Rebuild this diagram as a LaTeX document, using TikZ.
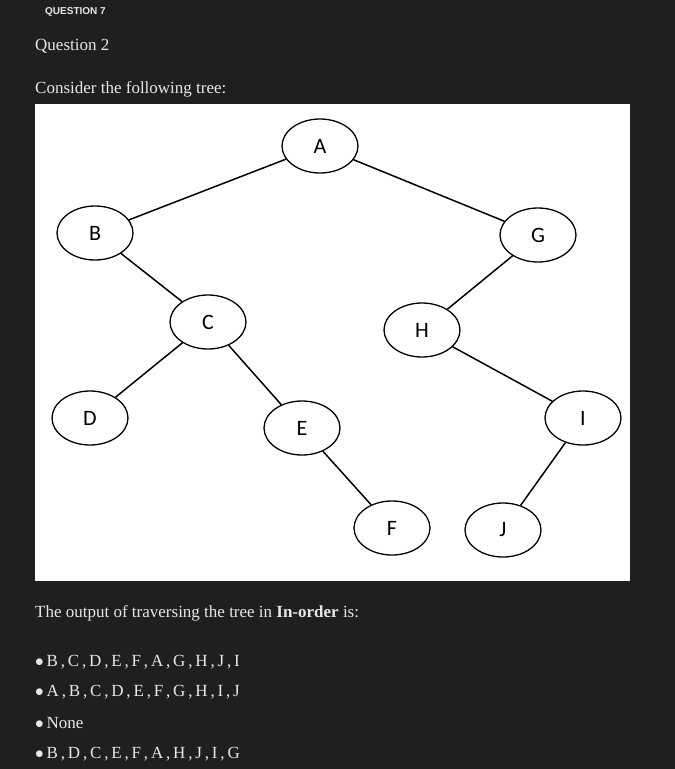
\documentclass[tikz,border=0pt]{standalone}
\usepackage{fontspec}
\setmainfont{Liberation Serif}
\newfontfamily\nodefont{Carlito}
\newfontfamily\hdfont{Liberation Sans}
\definecolor{bg}{HTML}{1E1F21}
\definecolor{fg}{HTML}{E8E8E8}
\begin{document}
\begin{tikzpicture}[x=1pt,y=-1pt,
  tn/.style={draw=black,line width=1.3pt,fill=white,ellipse,minimum width=76pt,minimum height=54pt,inner sep=0pt,font=\nodefont\fontsize{22}{22}\selectfont},
  tx/.style={anchor=west,text=fg,inner sep=0pt,font=\fontsize{17}{20}\selectfont},
  edge/.style={line width=1.5pt,draw=black}]
\usetikzlibrary{shapes.geometric}
\fill[bg] (0,0) rectangle (675,769);
\useasboundingbox (0,0) rectangle (675,769);
\fill[white] (35,104) rectangle (630,581);
\node[anchor=west,text=fg,inner sep=0pt,font=\hdfont\bfseries\fontsize{10}{12}\selectfont] (q7) at (45,12) {QUESTION 7};
\node[tx] (q2) at (35,46) {Question 2};
\node[tx] (cons) at (35,89) {Consider the following tree:};
\node[tx] (out) at (35,613) {The output of traversing the tree in \textbf{In-order} is:};
\node[tx] (o1) at (35,662) {$\bullet$\,B\,,\,C\,,\,D\,,\,E\,,\,F\,,\,A\,,\,G\,,\,H\,,\,J\,,\,I};
\node[tx] (o2) at (35,692) {$\bullet$\,A\,,\,B\,,\,C\,,\,D\,,\,E\,,\,F\,,\,G\,,\,H\,,\,I\,,\,J};
\node[tx] (o3) at (35,723) {$\bullet$\,None};
\node[tx] (o4) at (35,754) {$\bullet$\,B\,,\,D\,,\,C\,,\,E\,,\,F\,,\,A\,,\,H\,,\,J\,,\,I\,,\,G};
\node[tn] (A) at (320,146) {A};
\node[tn] (B) at (95,233) {B};
\node[tn] (G) at (538,235) {G};
\node[tn] (C) at (208,322) {C};
\node[tn] (H) at (422,330) {H};
\node[tn] (D) at (90,418) {D};
\node[tn] (E) at (302,428) {E};
\node[tn] (I) at (583,418) {I};
\node[tn] (F) at (392,528) {F};
\node[tn] (J) at (503,530) {J};
\foreach \a/\b in {A/B,A/G,B/C,C/D,C/E,E/F,G/H,H/I,I/J}
  \draw[edge] (\a) -- (\b);
\end{tikzpicture}
\end{document}
